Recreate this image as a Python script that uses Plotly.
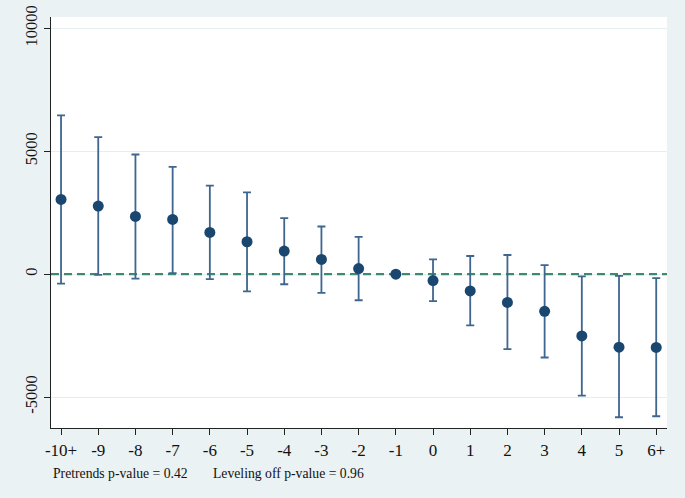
import plotly.graph_objects as go

labels = ["-10+", "-9", "-8", "-7", "-6", "-5", "-4", "-3", "-2", "-1",
          "0", "1", "2", "3", "4", "5", "6+"]
periods = [-10, -9, -8, -7, -6, -5, -4, -3, -2, -1, 0, 1, 2, 3, 4, 5, 6]
estimate = [3040, 2770, 2350, 2230, 1700, 1320, 940, 600, 230, 0,
            -260, -680, -1150, -1510, -2510, -2970, -2980]
upper = [6460, 5580, 4870, 4370, 3600, 3330, 2280, 1940, 1520, 0,
         600, 740, 780, 370, -90, -70, -160]
lower = [-380, -30, -180, 40, -200, -700, -410, -760, -1060, 0,
         -1100, -2080, -3050, -3390, -4940, -5820, -5780]
ytick_vals = [-5000, 0, 5000, 10000]
x_range = [-10.27, 6.29]
y_range = [-6258, 10464]
note_left = "Pretrends p-value = 0.42"
note_right = "Leveling off p-value = 0.96"

err_plus = [u - e for u, e in zip(upper, estimate)]
err_minus = [e - l for e, l in zip(estimate, lower)]

fig = go.Figure()
fig.add_trace(go.Scatter(
    x=x_range, y=[0, 0], mode="lines",
    line=dict(color="#3d8a74", width=2.2, dash="8px,5px"),
    showlegend=False, hoverinfo="skip",
))
fig.add_trace(go.Scatter(
    x=periods, y=estimate, mode="markers",
    marker=dict(color="#1a476f", size=11),
    error_y=dict(type="data", symmetric=False, array=err_plus, arrayminus=err_minus,
                 color="#3f6690", thickness=1.8, width=4),
    showlegend=False, hoverinfo="skip",
))

font = dict(family="Liberation Serif", size=17, color="#111111")
yfont = dict(family="Liberation Serif", size=16.5, color="#111111")
notefont = dict(family="Liberation Serif", size=13.7, color="#111111")
fig.update_layout(
    width=685, height=498,
    margin=dict(l=51, r=18, t=17, b=70),
    paper_bgcolor="#eaf2f3", plot_bgcolor="#ffffff",
    font=font,
    xaxis=dict(range=x_range, tickmode="array", tickvals=periods, ticktext=labels,
               showgrid=False, zeroline=False, showline=True, linecolor="#222222", linewidth=1.3,
               ticks="outside", ticklen=6, tickcolor="#222222", tickfont=font,
               automargin=False),
    yaxis=dict(range=y_range, tickmode="array", tickvals=ytick_vals,
               ticktext=[str(v) for v in ytick_vals], tickangle=-90,
               showgrid=True, gridcolor="#e6eff0", gridwidth=1, zeroline=False,
               showline=True, linecolor="#222222", linewidth=1.3,
               ticks="outside", ticklen=6, tickcolor="#222222", tickfont=yfont,
               automargin=False),
    annotations=[
        dict(text=note_left, xref="paper", yref="paper", x=0.0, y=-0.088,
             xanchor="left", yanchor="top", showarrow=False, font=notefont),
        dict(text=note_right, xref="paper", yref="paper", x=(211 - 51) / 616, y=-0.088,
             xanchor="left", yanchor="top", showarrow=False, font=notefont),
    ],
)
fig.write_html(
    "out.html",
    config={"displayModeBar": False},
    post_script="document.body.style.margin='0';document.body.style.overflow='hidden';"
                "document.body.style.background='#eaf2f3';",
)
